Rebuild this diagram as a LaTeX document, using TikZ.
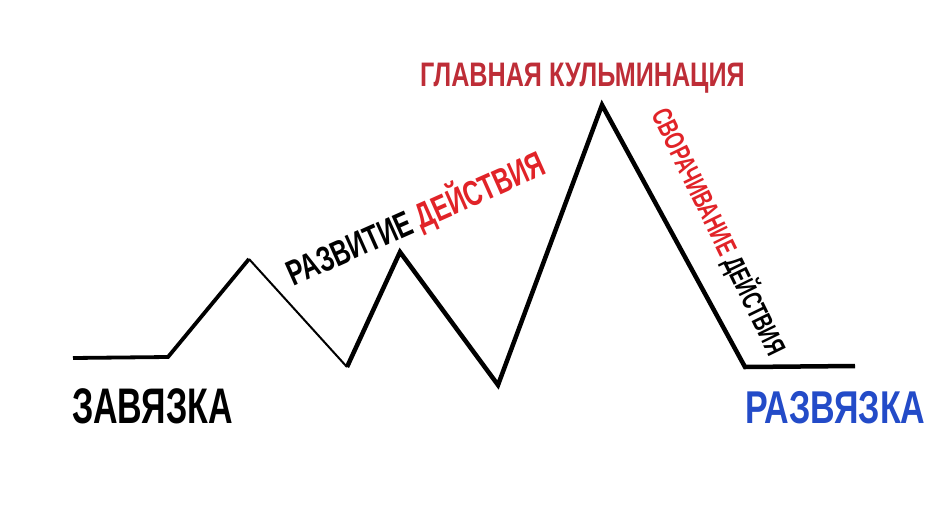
\documentclass[tikz,border=0pt]{standalone}
\usepackage{fontspec}
\setmainfont{Liberation Sans}
\newfontfamily\nar{Liberation Sans}[FakeStretch=0.68]
\newfontfamily\narw{Liberation Sans}[FakeStretch=0.74]
\newfontfamily\narm{Liberation Sans}[FakeStretch=0.70]
\definecolor{kulred}{RGB}{190,45,55}
\definecolor{actred}{RGB}{225,35,40}
\definecolor{razblue}{RGB}{35,75,200}
\tikzset{
  plotline/.style={line width=4.5pt, line join=miter, miter limit=10},
  thinline/.style={line width=2pt},
  lbl/.style={inner sep=0pt, outer sep=0pt, font=\nar\bfseries},
}
\begin{document}
\begin{tikzpicture}[x=1pt,y=-1pt]
\useasboundingbox[fill=white] (0,0) rectangle (945,522);
\coordinate (p1) at (73,358);
\coordinate (p2) at (168,357);
\coordinate (p3) at (249,259);
\coordinate (p4) at (347,367);
\coordinate (p5) at (400,252);
\coordinate (p6) at (498,385);
\coordinate (p7) at (602,105);
\coordinate (p8) at (745,367);
\coordinate (p9) at (855,366);
\draw[plotline, line width=3.8pt] (p1) -- (p2) -- (p3);
\draw[thinline] (p3) -- (p4);
\draw[plotline] (p4) -- (p5) -- (p6) -- (p7) -- (p8) -- (p9);
\node[lbl, anchor=base west, font=\nar\bfseries\fontsize{50}{50}\selectfont] (zav) at (72,423) {ЗАВЯЗКА};
\node[lbl, anchor=base west, text=razblue, font=\narw\bfseries\fontsize{46}{46}\selectfont] (raz) at (745,423) {РАЗВЯЗКА};
\node[lbl, anchor=base west, text=kulred, font=\narw\bfseries\fontsize{34}{34}\selectfont] (kul) at (420,86) {ГЛАВНАЯ КУЛЬМИНАЦИЯ};
\node[lbl, anchor=base, rotate=24, font=\narm\bfseries\fontsize{35.5}{35.5}\selectfont] (razv) at (421,230) {РАЗВИТИЕ \textcolor{actred}{ДЕЙСТВИЯ}};
\node[lbl, anchor=base, rotate=-64, font=\nar\bfseries\fontsize{28}{28}\selectfont] (svor) at (710,236) {\textcolor{actred}{СВОРАЧИВАНИЕ} ДЕЙСТВИЯ};
\end{tikzpicture}
\end{document}
